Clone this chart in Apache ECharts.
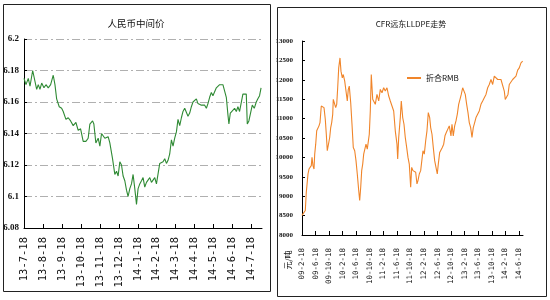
<!DOCTYPE html>
<html>
<head>
<meta charset="utf-8">
<script src="https://cdn.jsdelivr.net/npm/echarts@6/dist/echarts.min.js"></script>
<style>
html,body{margin:0;padding:0;background:#fff;}
#c{width:550px;height:300px;}
</style>
</head>
<body>
<div id="c"></div>
<script>
// ---- Left chart: 人民币中间价 (x in months after 13-7-18) ----
var leftTitle = '人民币中间价';
var leftTicks = ['13-7-18', '13-8-18', '13-9-18', '13-10-18', '13-11-18', '13-12-18', '14-1-18', '14-2-18', '14-3-18', '14-4-18', '14-5-18', '14-6-18', '14-7-18'];
var leftMonths = [0, 0.105, 0.226, 0.316, 0.458, 0.526, 0.668, 0.753, 0.842, 0.932, 1.053, 1.158, 1.279, 1.405, 1.542, 1.632, 1.721, 1.858, 1.984, 2.068, 2.211, 2.332, 2.458, 2.595, 2.737, 2.858, 2.984, 3.121, 3.263, 3.384, 3.474, 3.616, 3.684, 3.789, 3.911, 4.0, 4.089, 4.174, 4.263, 4.353, 4.437, 4.526, 4.668, 4.789, 4.879, 4.963, 5.053, 5.142, 5.226, 5.316, 5.405, 5.489, 5.579, 5.668, 5.753, 5.842, 5.932, 6.016, 6.105, 6.195, 6.279, 6.368, 6.458, 6.542, 6.632, 6.721, 6.805, 6.895, 6.984, 7.068, 7.158, 7.247, 7.332, 7.421, 7.511, 7.595, 7.684, 7.774, 7.858, 7.947, 8.037, 8.121, 8.211, 8.3, 8.384, 8.474, 8.563, 8.647, 8.737, 8.826, 8.911, 9.0, 9.089, 9.174, 9.263, 9.353, 9.437, 9.526, 9.616, 9.7, 9.789, 9.879, 9.963, 10.053, 10.142, 10.226, 10.316, 10.405, 10.489, 10.579, 10.668, 10.753, 10.805, 10.879, 10.984, 11.105, 11.195, 11.279, 11.368, 11.458, 11.542, 11.632, 11.721, 11.774, 11.858, 11.932, 12.037, 12.142, 12.247, 12.332, 12.421, 12.5];
var leftRate = [6.175, 6.171, 6.175, 6.170, 6.180, 6.181, 6.168, 6.171, 6.168, 6.172, 6.169, 6.171, 6.169, 6.171, 6.177, 6.171, 6.162, 6.157, 6.156, 6.154, 6.149, 6.150, 6.148, 6.145, 6.147, 6.142, 6.143, 6.135, 6.135, 6.137, 6.146, 6.148, 6.146, 6.134, 6.137, 6.132, 6.140, 6.139, 6.137, 6.136, 6.138, 6.134, 6.124, 6.114, 6.116, 6.113, 6.122, 6.120, 6.113, 6.110, 6.104, 6.100, 6.105, 6.108, 6.114, 6.105, 6.095, 6.105, 6.108, 6.110, 6.112, 6.106, 6.109, 6.108, 6.112, 6.109, 6.110, 6.112, 6.108, 6.108, 6.121, 6.120, 6.122, 6.124, 6.121, 6.123, 6.127, 6.136, 6.132, 6.137, 6.141, 6.149, 6.145, 6.150, 6.154, 6.156, 6.155, 6.151, 6.153, 6.157, 6.160, 6.161, 6.162, 6.159, 6.159, 6.158, 6.157, 6.158, 6.156, 6.159, 6.163, 6.166, 6.164, 6.165, 6.169, 6.170, 6.171, 6.172, 6.171, 6.170, 6.163, 6.152, 6.146, 6.153, 6.152, 6.156, 6.154, 6.157, 6.154, 6.153, 6.165, 6.166, 6.165, 6.146, 6.148, 6.147, 6.158, 6.156, 6.160, 6.162, 6.164, 6.169];

// ---- Right chart: CFR远东LLDPE走势 (x in months after 09-2-18) ----
var rightTitle = 'CFR远东LLDPE走势';
var rightSeriesName = '折合RMB';
var rightUnit = '元/吨';
var rightTicks = ['09-2-18', '09-6-18', '09-10-18', '10-2-18', '10-6-18', '10-10-18', '11-2-18', '11-6-18', '11-10-18', '12-2-18', '12-6-18', '12-10-18', '13-2-18', '13-6-18', '13-10-18', '14-2-18', '14-6-18'];
var rightMonths = [0, 0.59, 0.97, 1.27, 1.56, 1.77, 2.06, 2.36, 2.74, 2.95, 3.24, 3.54, 3.75, 4.04, 4.34, 4.72, 5.01, 5.31, 5.69, 6.11, 6.49, 6.87, 7.17, 7.46, 7.88, 8.17, 8.47, 8.76, 9.06, 9.23, 9.65, 9.94, 10.24, 10.53, 10.83, 11.21, 11.5, 11.89, 12.18, 12.6, 12.98, 13.36, 13.66, 13.95, 14.37, 14.75, 15.13, 15.55, 15.93, 16.31, 16.73, 17.02, 17.32, 17.61, 17.91, 18.2, 18.5, 18.88, 19.26, 19.56, 19.85, 20.15, 20.44, 20.86, 21.15, 21.62, 22.12, 22.63, 23.1, 23.6, 24.1, 24.57, 25.07, 25.58, 26.05, 26.55, 27.05, 27.52, 28.02, 28.23, 28.53, 29.0, 29.29, 29.71, 30.09, 30.47, 30.88, 31.27, 31.65, 32.06, 32.36, 32.74, 33.13, 33.54, 33.92, 34.22, 34.6, 35.01, 35.4, 35.69, 36.08, 36.49, 36.87, 37.26, 37.67, 37.96, 38.35, 38.73, 39.14, 39.53, 39.91, 40.21, 40.62, 41.0, 41.39, 41.8, 42.18, 42.57, 43.07, 43.45, 43.95, 44.25, 44.63, 45.04, 45.43, 45.81, 46.22, 46.61, 46.99, 47.4, 47.88, 48.17, 48.58, 48.97, 49.35, 49.76, 50.15, 50.53, 50.94, 51.33, 51.83, 52.3, 52.8, 53.3, 53.78, 54.28, 54.78, 55.25, 55.75, 56.25, 56.73, 57.23, 57.73, 58.2, 58.7, 59.2, 59.68, 59.97, 60.38, 60.77, 61.15, 61.65, 62.15, 62.63, 63.13, 63.63, 64.1, 64.6, 65.1];
var rightPrice = [8505, 8546, 8633, 9103, 9146, 9572, 9700, 9659, 9787, 10000, 9787, 9700, 10085, 10341, 10685, 10726, 10813, 10897, 11326, 11367, 11282, 10982, 10597, 10172, 10172, 10513, 10769, 10897, 11110, 11495, 11539, 11282, 11367, 11795, 12308, 12564, 12223, 12051, 12136, 11966, 11710, 11454, 11752, 11838, 11410, 10854, 10257, 10172, 9916, 9572, 9146, 8890, 9231, 9659, 9828, 10085, 10128, 10341, 10213, 10172, 10597, 11197, 12136, 11500, 11454, 11367, 11624, 11454, 11752, 11667, 11795, 11710, 11795, 11582, 11454, 11326, 11197, 10685, 10341, 9957, 10513, 11026, 11454, 11026, 10854, 10513, 10257, 10000, 9828, 9231, 9744, 9659, 9700, 9616, 9316, 9403, 9572, 9659, 9659, 10172, 10085, 10428, 10685, 11154, 11026, 10769, 10597, 10257, 9916, 9744, 9572, 9828, 10128, 10085, 10257, 10341, 10556, 10641, 10641, 10813, 10556, 10854, 10556, 10813, 10941, 11110, 11367, 11495, 11624, 11795, 11777, 11624, 11367, 11154, 10897, 10769, 10513, 10769, 10897, 11026, 11069, 11197, 11367, 11454, 11539, 11624, 11795, 11880, 12008, 11880, 12095, 12136, 12008, 11966, 12008, 11966, 11710, 11495, 11454, 11624, 11880, 11923, 12008, 12008, 12095, 12250, 12308, 12436, 12479];

function pairs(xs, ys) { return xs.map(function (x, i) { return [x, ys[i]]; }); }

var chart = echarts.init(document.getElementById('c'), null, {renderer: 'canvas'});
var black = '#000';
var option = {
  backgroundColor: '#fff',
  animation: false,
  grid: [
    {left: 24, top: 39, width: 238, height: 189},
    {left: 302, top: 41, width: 221, height: 194}
  ],
  xAxis: [
    {
      gridIndex: 0, type: 'value', min: 0, max: 12.55, interval: 1,
      axisLine: {lineStyle: {color: black, width: 1}},
      axisTick: {inside: true, length: 4, lineStyle: {color: black}},
      splitLine: {show: false},
      axisLabel: {
        rotate: 90, fontSize: 10.5, margin: 9, color: '#111',
        fontFamily: 'DejaVu Sans Mono', showMaxLabel: false, showMinLabel: true, hideOverlap: false,
        formatter: function (v) { return (Math.abs(v - Math.round(v)) < 1e-6 && leftTicks[Math.round(v)]) || ''; }
      }
    },
    {
      gridIndex: 1, type: 'value', min: 0, max: 65.2, interval: 4,
      axisLine: {lineStyle: {color: black, width: 1}},
      axisTick: {inside: true, length: 4, lineStyle: {color: black}},
      splitLine: {show: false},
      axisLabel: {
        rotate: 90, fontSize: 7.5, margin: 13, color: '#111',
        fontFamily: 'DejaVu Sans Mono', showMaxLabel: false, showMinLabel: true, hideOverlap: false,
        formatter: function (v) {
          var k = Math.round(v / 4);
          return (Math.abs(v - k * 4) < 1e-6 && rightTicks[k]) || '';
        }
      }
    }
  ],
  yAxis: [
    {
      gridIndex: 0, type: 'value', min: 6.08, max: 6.2, interval: 0.02,
      axisLine: {show: true, lineStyle: {color: black, width: 1}},
      axisTick: {show: true, inside: true, length: 3, lineStyle: {color: black}},
      splitLine: {show: true, lineStyle: {color: '#b0b0b0', type: [8, 3, 2, 3], width: 1}},
      axisLabel: {fontSize: 9, fontWeight: 'bold', margin: 5, color: '#111', fontFamily: 'Liberation Serif'}
    },
    {
      gridIndex: 1, type: 'value', min: 8000, max: 13000, interval: 500,
      axisLine: {show: true, lineStyle: {color: black, width: 1}},
      axisTick: {show: true, inside: true, length: 3, lineStyle: {color: black}},
      splitLine: {show: false},
      axisLabel: {
        fontSize: 7, fontWeight: 'bold', margin: 9, color: '#111', fontFamily: 'Liberation Serif',
        formatter: function (v) { return String(Math.round(v)); }
      }
    }
  ],
  legend: {
    data: [{name: rightSeriesName, icon: 'rect'}],
    left: 407, top: 74, padding: 0,
    itemWidth: 14, itemHeight: 2,
    textStyle: {fontSize: 8, color: '#111', fontFamily: 'Noto Sans CJK SC'}
  },
  series: [
    {
      name: '人民币中间价', type: 'line', xAxisIndex: 0, yAxisIndex: 0,
      data: pairs(leftMonths, leftRate), symbol: 'none', showSymbol: false,
      lineStyle: {color: '#2f8a34', width: 1.1}, itemStyle: {color: '#2f8a34'}
    },
    {
      name: rightSeriesName, type: 'line', xAxisIndex: 1, yAxisIndex: 1,
      data: pairs(rightMonths, rightPrice), symbol: 'none', showSymbol: false,
      lineStyle: {color: '#f0852a', width: 1.1}, itemStyle: {color: '#f0852a'}
    }
  ],
  graphic: [
    {type: 'rect', shape: {x: 3.5, y: 4.5, width: 267, height: 287}, style: {fill: 'none', stroke: '#222', lineWidth: 1}, silent: true, z: 100},
    {type: 'rect', shape: {x: 277.5, y: 7.5, width: 269, height: 289}, style: {fill: 'none', stroke: '#222', lineWidth: 1}, silent: true, z: 100},
    {type: 'text', x: 136, y: 23, style: {text: leftTitle, align: 'center', verticalAlign: 'middle', font: '9.5px "Noto Sans CJK SC"', fill: '#111'}},
    {type: 'text', x: 411, y: 24, style: {text: rightTitle, align: 'center', verticalAlign: 'middle', font: '8px "Noto Sans CJK SC"', fill: '#111'}},
    {type: 'text', x: 288, y: 260, rotation: Math.PI / 2, style: {text: rightUnit, align: 'center', verticalAlign: 'middle', font: '8px "Noto Sans CJK SC"', fill: '#111'}}
  ]
};
chart.setOption(option);
</script>
</body>
</html>
